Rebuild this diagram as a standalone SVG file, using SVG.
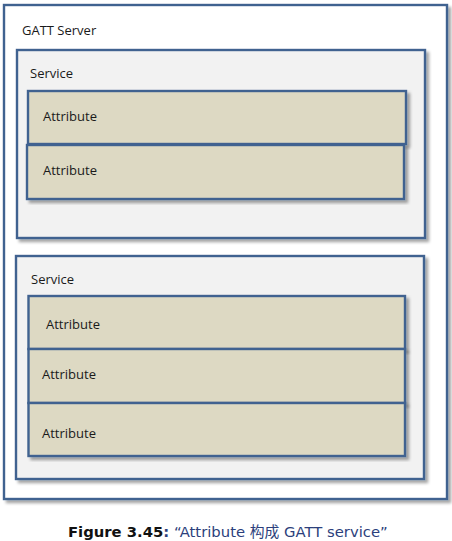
<svg xmlns="http://www.w3.org/2000/svg" width="452" height="541" viewBox="0 0 452 541">
<defs>
<filter id="sh" x="-5%" y="-5%" width="112%" height="115%">
<feGaussianBlur in="SourceAlpha" stdDeviation="1.5"/>
<feOffset dx="2.5" dy="2.5" result="b"/>
<feComponentTransfer><feFuncA type="linear" slope="0.35"/></feComponentTransfer>
<feMerge><feMergeNode/><feMergeNode in="SourceGraphic"/></feMerge>
</filter>
</defs>
<style>
.box{stroke:#3f6290;stroke-width:2.4;filter:url(#sh)}
.srv{fill:#ffffff}
.svc{fill:#f2f2f2}
.att{fill:#ddd9c3}
.t{font-family:"Open Sans","Noto Sans","Liberation Sans",sans-serif;font-size:13px;fill:#1a1a1a}
.cap{font-family:"DejaVu Sans","Noto Sans CJK SC",sans-serif;font-size:14.8px}
</style>
<rect width="452" height="541" fill="#ffffff"/>
<g id="gatt-server">
<rect class="box srv" x="4" y="5" width="443" height="494"/>
<text class="t" x="22" y="35">GATT Server</text>
</g>
<g id="service-1">
<rect class="box svc" x="17" y="50" width="408" height="188"/>
<text class="t" x="30" y="78">Service</text>
</g>
<g id="attr-1a">
<rect class="box att" x="28" y="91" width="378" height="53"/>
<text class="t" x="43" y="121">Attribute</text>
</g>
<g id="attr-1b">
<rect class="box att" x="27" y="145" width="377" height="54"/>
<text class="t" x="43" y="175">Attribute</text>
</g>
<g id="service-2">
<rect class="box svc" x="16" y="256" width="408" height="223"/>
<text class="t" x="31" y="284">Service</text>
</g>
<g id="attr-2a">
<rect class="box att" x="28.5" y="296" width="376.5" height="53"/>
<text class="t" x="46" y="329">Attribute</text>
</g>
<g id="attr-2b">
<rect class="box att" x="28.5" y="349" width="376.5" height="54"/>
<text class="t" x="42" y="379">Attribute</text>
</g>
<g id="attr-2c">
<rect class="box att" x="28.5" y="403" width="376.5" height="53"/>
<text class="t" x="42" y="438">Attribute</text>
</g>
<g id="connectors"></g>
<text class="cap" x="68" y="537"><tspan font-weight="bold" fill="#111111">Figure 3.45</tspan><tspan font-weight="bold" fill="#2c3f7c">:</tspan><tspan fill="#2c3f7c"> “Attribute 构成 GATT service”</tspan></text>
</svg>
